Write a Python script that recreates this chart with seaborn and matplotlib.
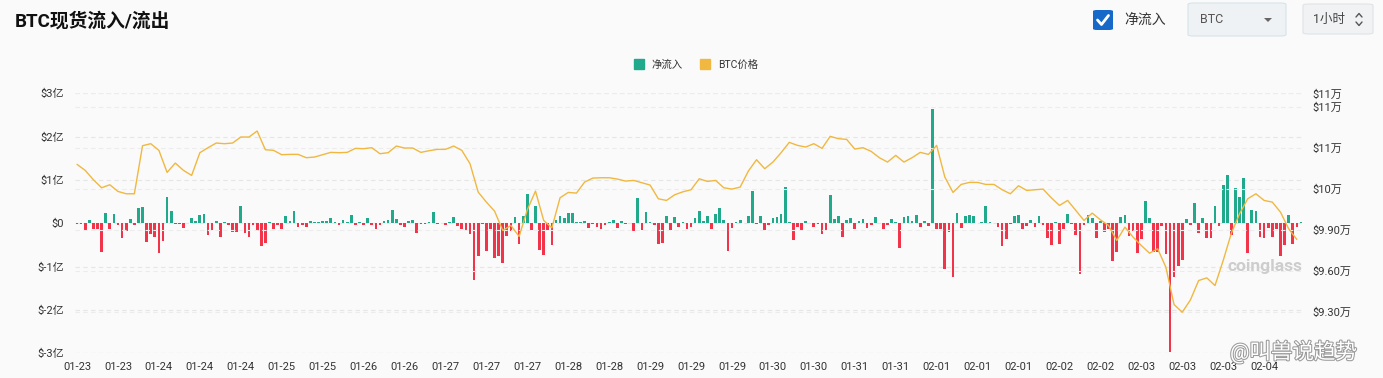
import numpy as np
import matplotlib
matplotlib.use("Agg")
import matplotlib.pyplot as plt
import matplotlib.patheffects as pe
from matplotlib.lines import Line2D
from matplotlib.patches import FancyBboxPatch, Polygon
import seaborn as sns

# hourly net flow (million USD), 01-23 ~06:00 -> 02-04 ~14:00
net_flow = [
    -2, -2, -17, 8, -13, -12, -67, 24, -12, 22, -4, -35, -17, 9, -5, 36, 38, -42, -24, -32,
    -69, -41, 61, 28, -2, -2, -10, 0, 12, 6, 19, 22, -28, -15, 5, -32, 2, -5, -20, -19,
    41, -22, -32, -5, -17, -52, -46, 2, -13, -5, -12, 17, 5, 29, -8, -5, -8, 5, 3, 3,
    5, 5, 12, 3, -3, 7, 2, 19, -3, 2, -5, 13, -5, -13, -5, 5, 7, 30, 10, -3,
    -8, 5, 7, -22, -1, -2, 3, 26, -1, 0, -5, 3, 15, -6, -12, -16, -25, -131, -75, -2,
    -65, -12, -81, -75, -91, -30, -17, 14, -48, 17, 68, -16, 40, -62, -72, -15, -51, 8, 18, 13,
    24, 24, 2, 3, 5, -10, -2, -8, -12, -5, 3, 7, -10, 5, -2, 0, -18, 58, -15, 26,
    3, -5, -48, -45, 17, -15, 15, -8, 3, -12, -8, 12, 28, 6, 17, -12, 22, 35, 7, -65,
    -10, 2, 8, 0, 17, 75, -1, 16, -15, -5, 12, 14, 22, 83, 3, -39, -9, -17, 5, 0,
    -9, -1, -24, -15, 66, 10, 18, -31, 8, 12, -12, 6, 9, -11, -4, 14, 0, -13, -3, 10,
    4, -58, 15, 16, 6, 19, -8, 6, -7, 264, -14, -12, -106, -19, -125, 23, -11, 16, 19, 18,
    0, 2, 40, 2, 0, -8, -52, -36, -1, 16, 19, -14, -7, 7, -8, 16, -5, -35, -51, 2,
    -48, -12, 22, -2, -28, -116, -3, 19, 13, -35, 5, -19, -12, -86, -67, 14, 19, -29, -17, -69,
    -36, 52, 13, -67, -67, -6, -70, -296, -123, -98, -85, 10, -3, 46, -22, 13, -35, -35, 39, -7,
    89, 111, -26, 82, 61, 105, -69, 30, 28, -31, -35, -10, -32, -13, -75, -50, 20, -47, -8, 3,
]
hours = list(range(len(net_flow)))

# BTC price, read every 2 hours
price_hours = list(range(0, 300, 2))
btc_price = [
    103805, 103366, 102683, 102097, 102317, 101829, 101658, 101658, 105171, 105317,
    104829, 103219, 103902, 103366, 103000, 104658, 105024, 105366, 105317, 105366,
    105805, 105805, 106244, 104878, 104829, 104512, 104537, 104537, 104293, 104342,
    104512, 104683, 104659, 104683, 104975, 104951, 105024, 104585, 104659, 105146,
    105000, 105000, 104683, 104805, 104902, 104902, 105146, 104829, 103854, 101780,
    101049, 100390, 98976, 99341, 98537, 100488, 101854, 99707, 99171, 101366,
    101756, 101707, 102512, 102805, 102829, 102829, 102732, 102585, 102634, 102463,
    102293, 101293, 101171, 101585, 101800, 101951, 102756, 102561, 102634, 102097,
    102000, 102146, 103317, 104146, 103488, 103975, 104658, 105414, 105195, 105073,
    105317, 104975, 105854, 105683, 105634, 104927, 105024, 104756, 104293, 103975,
    104463, 103975, 104293, 104683, 104536, 105195, 102878, 101756, 102341, 102488,
    102488, 102341, 102341, 101951, 101658, 102244, 101902, 101951, 102000, 101366,
    100805, 101171, 100439, 99707, 100244, 99756, 99341, 98244, 99220, 98488,
    97878, 97317, 97634, 96293, 93561, 93000, 93902, 95317, 95512, 94951,
    96780, 98780, 100195, 101293, 101658, 101171, 101049, 100317, 99097, 98317,
]

tick_hours = list(range(0, 300, 10))
tick_dates = ['01-23', '01-23', '01-24', '01-24', '01-24', '01-25', '01-25', '01-26', '01-26', '01-27',
              '01-27', '01-27', '01-28', '01-28', '01-29', '01-29', '01-29', '01-30', '01-30', '01-31',
              '01-31', '02-01', '02-01', '02-01', '02-02', '02-02', '02-03', '02-03', '02-03', '02-04']

flow_ticks = [-300, -200, -100, 0, 100, 200, 300]
flow_labels = ['$-3亿', '$-2亿', '$-1亿', '$0', '$1亿', '$2亿', '$3亿']
# the 9万 label at the bottom is covered by the watermark in the reference
price_ticks = [90000, 93000, 96000, 99000, 102000, 105000, 108000, 109000]
price_labels = ['', '$9.30万', '$9.60万', '$9.90万', '$10万', '$11万', '$11万', '$11万']

GREEN = '#20a98b'
RED = '#f2344a'
GOLD = '#f0b840'
BG = '#fafafa'
W, H = 1383, 378

sns.set_style('white')
plt.rcParams['font.family'] = ['Roboto', 'Noto Sans CJK SC', 'DejaVu Sans']

fig = plt.figure(figsize=(W / 100, H / 100), dpi=100, facecolor=BG)
ax = fig.add_axes([75 / W, 1 - 353.3 / H, (1303 - 75) / W, (353.3 - 93.3) / H])
ax.set_facecolor(BG)

sign = np.where(np.array(net_flow) >= 0, 'in', 'out')
sns.barplot(x=hours, y=net_flow, hue=sign, palette={'in': GREEN, 'out': RED},
            dodge=False, legend=False, width=0.66, saturation=1, linewidth=0, ax=ax)
ax.set_xlim(-0.5, len(net_flow) - 0.5)
ax.set_ylim(-300, 300)
ax.set_yticks(flow_ticks)
ax.set_yticklabels(flow_labels)
ax.set_xticks(tick_hours)
ax.set_xticklabels(tick_dates)
ax.set_xlabel('')
ax.set_ylabel('')
ax.tick_params(axis='both', length=0, labelsize=8, colors='#333333')
ax.tick_params(axis='y', pad=8)
ax.tick_params(axis='x', pad=6)
ax.grid(axis='y', color='#e6e6e6', linestyle=(0, (4, 3)), linewidth=0.8)
ax.set_axisbelow(True)
for s in ax.spines.values():
    s.set_visible(False)

ax2 = ax.twinx()
sns.lineplot(x=price_hours, y=btc_price, ax=ax2, color=GOLD, linewidth=1.0)
ax2.set_ylim(90000, 109000)
ax2.set_yticks(price_ticks)
ax2.set_yticklabels(price_labels)
ax2.set_ylabel('')
ax2.tick_params(axis='y', length=0, labelsize=8, colors='#333333', pad=7)
ax2.grid(axis='y', color='#ececec', linestyle=(0, (4, 3)), linewidth=0.8)
ax2.set_xlim(-0.5, len(net_flow) - 0.5)
for s in ax2.spines.values():
    s.set_visible(False)

# title and legend
fig.text(15 / W, 1 - 21 / H, 'BTC现货流入/流出', fontsize=13.5, fontweight='bold',
         color='#111111', va='center', ha='left')
handles = [Line2D([], [], marker='s', linestyle='', color=GREEN, markersize=7),
           Line2D([], [], marker='s', linestyle='', color=GOLD, markersize=7)]
fig.legend(handles, ['净流入', 'BTC价格'], loc='center', bbox_to_anchor=(693 / W, 1 - 65 / H),
           ncol=2, frameon=False, fontsize=7.5, handletextpad=0.2, columnspacing=1.2,
           labelcolor='#333333')

# controls at top right
def fx(x):
    return x / W

def fy(y):
    return 1 - y / H

fig.add_artist(FancyBboxPatch((fx(1093), fy(30)), 20 / W, 20 / H, transform=fig.transFigure,
                              boxstyle='round,pad=0,rounding_size=0.003', fc='#1668c9', ec='none'))
fig.add_artist(Line2D([fx(1097.5), fx(1101.5), fx(1108.5)], [fy(20), fy(24.5), fy(15.5)],
                      transform=fig.transFigure, color='white', linewidth=2))
fig.text(fx(1124), fy(20), '净流入', fontsize=10, color='#333333', va='center', ha='left')

fig.add_artist(FancyBboxPatch((fx(1188), fy(36)), 98 / W, 33 / H, transform=fig.transFigure,
                              boxstyle='round,pad=0,rounding_size=0.004', fc='#eef2f5', ec='#d6e3ea', lw=0.8))
fig.text(fx(1200), fy(19.5), 'BTC', fontsize=9, color='#555555', va='center', ha='left')
fig.add_artist(Polygon([[fx(1264), fy(18)], [fx(1272), fy(18)], [fx(1268), fy(22)]], closed=True,
                       transform=fig.transFigure, fc='#666666', ec='none'))

fig.add_artist(FancyBboxPatch((fx(1303), fy(34)), 70 / W, 30 / H, transform=fig.transFigure,
                              boxstyle='round,pad=0,rounding_size=0.004', fc='#f0f2f4', ec='#dfe4e8', lw=0.8))
fig.text(fx(1313), fy(19.5), '1小时', fontsize=9, color='#444444', va='center', ha='left')
fig.add_artist(Line2D([fx(1356), fx(1359), fx(1362)], [fy(17), fy(13.5), fy(17)],
                      transform=fig.transFigure, color='#555555', linewidth=1))
fig.add_artist(Line2D([fx(1356), fx(1359), fx(1362)], [fy(22), fy(25.5), fy(22)],
                      transform=fig.transFigure, color='#555555', linewidth=1))

# watermarks
fig.text(fx(1228), fy(267), 'coinglass', fontsize=12.5, fontweight='bold', color='#cdcdcd',
         va='center', ha='left')
fig.text(fx(1230), fy(352), '@叫兽说趋势', fontsize=15.5, color='white', va='center', ha='left',
         path_effects=[pe.withStroke(linewidth=1.5, foreground='#9a9a9a')])

fig.savefig('out.png', dpi=100, facecolor=BG)
